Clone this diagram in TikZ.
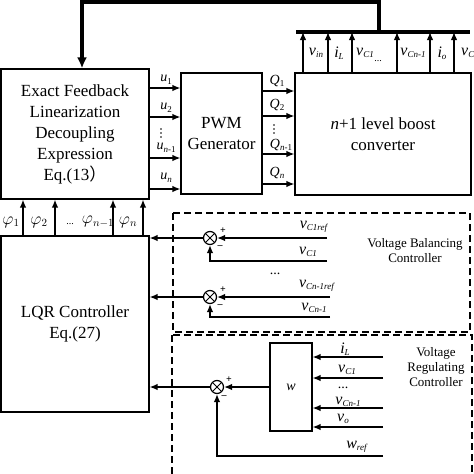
\documentclass[tikz,border=0pt]{standalone}
\usepackage{fontspec}
\setmainfont{Liberation Serif}
\newfontfamily\cjk{Noto Sans CJK SC}
\usetikzlibrary{arrows.meta}
\newcommand\sbx[1]{\raisebox{-2.5pt}{\fontsize{9}{9}\selectfont #1}}
\newcommand\lb[2]{\textit{#1}\sbx{\textit{#2}}}
\newcommand\lu[2]{\textit{#1}\sbx{#2}}
\newcommand\vdt{\tikz[baseline=0pt]{\foreach \k in {0,4,8} \fill (0,\k pt) circle (0.8pt);}}
\begin{document}
\begin{tikzpicture}[x=1pt,y=-1pt,
 blk/.style={draw, line width=1.2pt, inner sep=0pt, align=center, font=\fontsize{17}{21}\selectfont},
 arr/.style={line width=1.3pt, -{Latex[length=8pt,width=6.5pt]}},
 fb/.style={line width=3.2pt, -{Latex[length=11pt,width=10pt]}},
 bus/.style={line width=3.2pt},
 dbox/.style={draw, line width=1.1pt, dash pattern=on 7pt off 4pt},
 sumn/.style={circle, draw, line width=1.2pt, minimum size=13pt, inner sep=0pt,
   path picture={\draw[line width=1pt] (path picture bounding box.north west) -- (path picture bounding box.south east) (path picture bounding box.north east) -- (path picture bounding box.south west);}},
 lab/.style={font=\fontsize{16}{16}\selectfont, inner sep=0pt},
 ulab/.style={font=\fontsize{14}{14}\selectfont, inner sep=0pt},
 small/.style={font=\fontsize{13}{15}\selectfont, align=center, inner sep=0pt},
 sgn/.style={font=\fontsize{10}{10}\selectfont\bfseries, inner sep=0pt}
]
\useasboundingbox (0,0) rectangle (474,474);

% main blocks
\node[blk, minimum width=148pt, minimum height=130pt] (efb) at (75,134)
  {Exact Feedback\\Linearization\\Decoupling\\Expression\\Eq.(13{\cjk ）}};
\node[blk, minimum width=81pt, minimum height=121pt] (pwm) at (221.5,133.5) {PWM\\Generator};
\node[blk, minimum width=176pt, minimum height=122pt] (conv) at (383,134) {\textit{n}+1 level boost\\converter};
\node[blk, minimum width=148pt, minimum height=176pt] (lqr) at (75,324) {LQR Controller\\Eq.(27)};
\node[blk, minimum width=42pt, minimum height=88pt, font=\fontsize{14}{14}\selectfont\itshape] (wb) at (291,387) {w};

% u arrows
\foreach \yy in {88,117,158,189} \draw[arr] (efb.east |- 0,\yy) -- (pwm.west |- 0,\yy);
\node[ulab] (u1) at (166,80) {\lu{u}{1}};
\node[ulab] (u2) at (166,108) {\lu{u}{2}};
\node[inner sep=0pt] (ud) at (161,133) {\vdt};
\node[ulab] (u3) at (166,148) {\textit{u}\sbx{\textit{n}-1}};
\node[ulab] (u4) at (166,178) {\lb{u}{n}};

% Q arrows
\foreach \yy in {91,116,154,184} \draw[arr] (pwm.east |- 0,\yy) -- (conv.west |- 0,\yy);
\node[ulab] (q1) at (277,81) {\lu{Q}{1}};
\node[ulab] (q2) at (277,105) {\lu{Q}{2}};
\node[inner sep=0pt] (qd) at (274,129) {\vdt};
\node[ulab] (q3) at (281,145) {\textit{Q}\sbx{\textit{n}-1}};
\node[ulab] (q4) at (277,173) {\lb{Q}{n}};

% bus and feedback
\coordinate (busL) at (296,32);
\coordinate (busR) at (470,32);
\coordinate (busM) at (379,32);
\coordinate (fbR) at (379,2);
\coordinate (fbL) at (82,2);
\draw[bus] (busL) -- (busR);
\draw[fb] (busM) -- (fbR) -- (fbL) -- (efb.north -| fbL);
\foreach \xx in {303,328,352,397,430,454} \draw[arr] (conv.north -| \xx,0) -- (busL -| \xx,0);
\node[lab] (m1) at (316,53) {\lb{v}{in}};
\node[lab] (m2) at (339,53) {\lb{i}{L}};
\node[lab] (m3) at (365,53) {\lb{v}{C1}};
\node[ulab] (m4) at (378,61) {\fontsize{10}{10}\selectfont ...};
\node[lab] (m5) at (413,53) {\lb{v}{Cn-1}};
\node[lab] (m6) at (442,53) {\lb{i}{o}};
\node[lab, anchor=west] (m7) at (461,53) {\lb{v}{C}};

% phi arrows
\foreach \xx in {23,55,113,143} \draw[arr] (lqr.north -| \xx,0) -- (efb.south -| \xx,0);
\node[lab] (p1) at (11,222) {$\varphi_1$};
\node[lab] (p2) at (39,222) {$\varphi_2$};
\node[ulab] (pd) at (70,224) {\fontsize{10}{10}\selectfont ...};
\node[lab] (p3) at (98,222) {$\varphi_{n-1}$};
\node[lab] (p4) at (128,222) {$\varphi_n$};

% dashed boxes
\draw[dbox] (173,213) rectangle (470,332);
\draw[dbox] (172,335) rectangle (472,490);
\node[small] (vbc) at (415,251) {Voltage Balancing\\Controller};
\node[small] (vrc) at (436,367) {Voltage\\Regulating\\Controller};

% voltage balancing
\node[sumn] (s1) at (210,238) {};
\node[sumn] (s2) at (210,297) {};
\draw[arr] (s1.west) -- (lqr.east |- s1.west);
\draw[arr] (s2.west) -- (lqr.east |- s2.west);
\coordinate (a1) at (327,238);
\coordinate (a2) at (327,261);
\coordinate (a3) at (330,297);
\coordinate (a4) at (330,317);
\draw[arr] (a1) -- (s1.east);
\draw[arr] (a2) -| (s1.south);
\draw[arr] (a3) -- (s2.east);
\draw[arr] (a4) -| (s2.south);
\node[lab] (l1) at (314,227) {\lb{v}{C1ref}};
\node[lab] (l2) at (308,252) {\lb{v}{C1}};
\node[ulab] (l3) at (275,274) {...};
\node[lab] (l4) at (317,286) {\lb{v}{Cn-1ref}};
\node[lab] (l5) at (314,308) {\lb{v}{Cn-1}};
\node[sgn] (sp1) at (223,231) {+};
\node[sgn] (sm1) at (220,247) {--};
\node[sgn] (sp2) at (223,290) {+};
\node[sgn] (sm2) at (220,306) {--};

% voltage regulating
\node[sumn] (s3) at (217,387) {};
\draw[arr] (s3.west) -- (lqr.east |- s3.west);
\draw[arr] (wb.west |- s3.east) -- (s3.east);
\foreach \yy in {357,378,408,427} \draw[arr] (383,\yy) -- (wb.east |- 0,\yy);
\coordinate (wr) at (383,456);
\draw[arr] (wr) -| (s3.south);
\node[sgn] (sp3) at (229,380) {+};
\node[sgn] (sm3) at (224,397) {--};
\node[lab] (r1) at (345,349) {\lb{i}{L}};
\node[lab] (r2) at (347,370) {\lb{v}{C1}};
\node[ulab] (r3) at (343,388) {...};
\node[lab] (r4) at (348,402) {\lb{v}{Cn-1}};
\node[lab] (r5) at (343,419) {\lb{v}{o}};
\node[lab] (r6) at (357,447) {\lb{w}{ref}};
\end{tikzpicture}
\end{document}
